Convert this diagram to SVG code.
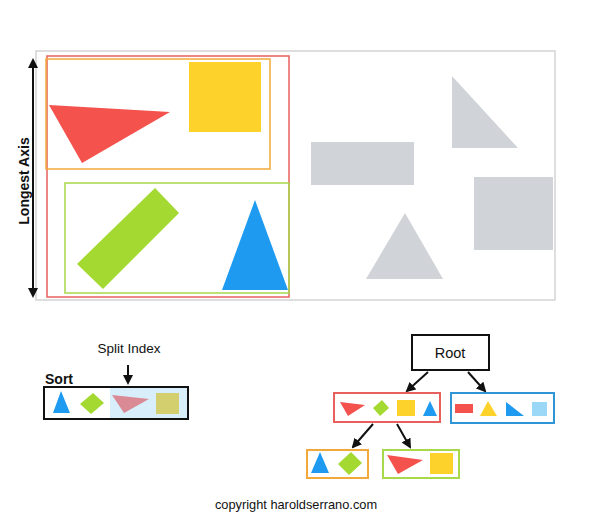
<svg xmlns="http://www.w3.org/2000/svg" width="600" height="514" viewBox="0 0 600 514">
<style>
text{font-family:"Liberation Sans",Arial,sans-serif;fill:#111}
.gray{fill:#d0d3d8}
.red{fill:#f4524d}
.yel{fill:#fdd22a}
.grn{fill:#a4d932}
.blu{fill:#1e9bf0}
.conn{stroke:#111;stroke-width:2;fill:none}
</style>
<defs>
<marker id="ah" viewBox="0 0 10 10" refX="8" refY="5" markerWidth="5" markerHeight="5" orient="auto-start-reverse"><path d="M0,0L10,5L0,10z" fill="#111"/></marker>
</defs>
<rect width="600" height="514" fill="#fff"/>
<g id="scene">
<rect x="36" y="51" width="519" height="249" fill="none" stroke="#d4d4d4" stroke-width="1.5"/>
<rect x="47" y="56" width="242" height="241" fill="none" stroke="#e8605c" stroke-width="1.5"/>
<rect x="46" y="59" width="224" height="110" fill="none" stroke="#f2a93b" stroke-width="1.5"/>
<rect x="65" y="183" width="224" height="110" fill="none" stroke="#a7d94b" stroke-width="1.5"/>
<polygon class="red" points="49,105 170,112 82,163"/>
<rect class="yel" x="189" y="62" width="72" height="70"/>
<polygon class="grn" points="155,188 179,213 103,289 77,264"/>
<polygon class="blu" points="255,200 222,290 288,290"/>
<polygon class="gray" points="452,76 452,148 518,148"/>
<rect class="gray" x="311" y="142" width="103" height="43"/>
<rect class="gray" x="474" y="177" width="79" height="73"/>
<polygon class="gray" points="405,213 366,279 443,279"/>
</g>
<g id="axis">
<text x="0" y="0" transform="translate(28.5,181) rotate(-90)" text-anchor="middle" font-size="14" font-weight="bold">Longest Axis</text>
</g>
<g id="sort">
<text x="129" y="353" text-anchor="middle" font-size="13.5">Split Index</text>
<text x="45" y="384" font-size="14" font-weight="bold">Sort</text>
<rect x="110" y="387" width="78" height="32" fill="#d9eefb"/>
<rect x="44" y="387" width="144" height="32" fill="none" stroke="#111" stroke-width="2"/>
<polygon class="blu" points="61,391 53,413 70,413"/>
<polygon class="grn" points="80,404 93,393 104,403 91,414"/>
<polygon fill="#d98a95" points="112,395 149,399 124,413"/>
<rect fill="#d4cf6e" x="156" y="393" width="23" height="21"/>
</g>
<g id="root">
<rect x="412" y="335" width="77" height="35" fill="#fff" stroke="#111" stroke-width="2"/>
<text x="450" y="358" text-anchor="middle" font-size="14.5">Root</text>
</g>
<g id="left-node">
<rect x="334" y="393" width="106" height="29" fill="none" stroke="#e8605c" stroke-width="2"/>
<polygon class="red" points="340,402 365,405 348,416"/>
<polygon class="grn" points="373,408 382,400 389,408 380,416"/>
<rect class="yel" x="397" y="400" width="18" height="16"/>
<polygon class="blu" points="430,401 423,416 437,416"/>
</g>
<g id="right-node">
<rect x="451" y="393" width="103" height="30" fill="none" stroke="#2f95d6" stroke-width="2"/>
<rect class="red" x="455" y="404" width="18" height="9"/>
<polygon class="yel" points="488,401 480,416 497,416"/>
<polygon class="blu" points="506,402 506,416 524,416"/>
<rect fill="#9bd7f7" x="532" y="402" width="15" height="14"/>
</g>
<g id="ll-node">
<rect x="307" y="450" width="61" height="28" fill="none" stroke="#f2a93b" stroke-width="2"/>
<polygon class="blu" points="320,452 311,473 329,473"/>
<polygon class="grn" points="338,464 351,452 362,463 349,475"/>
</g>
<g id="lr-node">
<rect x="383" y="450" width="76" height="28" fill="none" stroke="#a7d94b" stroke-width="2"/>
<polygon class="red" points="387,455 423,460 398,474"/>
<rect class="yel" x="430" y="453" width="23" height="21"/>
</g>
<g id="connectors">
<line class="conn" x1="33" y1="60" x2="33" y2="296" marker-start="url(#ah)" marker-end="url(#ah)"/>
<line class="conn" x1="128" y1="365" x2="128" y2="383" marker-end="url(#ah)"/>
<line class="conn" x1="428" y1="372" x2="407" y2="391" marker-end="url(#ah)"/>
<line class="conn" x1="468" y1="372" x2="485" y2="391" marker-end="url(#ah)"/>
<line class="conn" x1="373" y1="424" x2="353" y2="447" marker-end="url(#ah)"/>
<line class="conn" x1="397" y1="424" x2="410" y2="447" marker-end="url(#ah)"/>
</g>
<text x="296" y="509" text-anchor="middle" font-size="12.8" fill="#222">copyright haroldserrano.com</text>
</svg>
